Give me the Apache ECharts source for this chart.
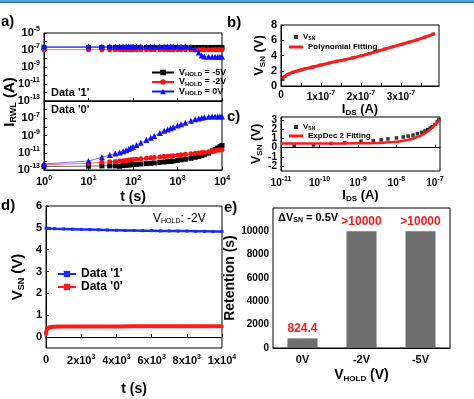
<!DOCTYPE html>
<html>
<head>
<meta charset="utf-8">
<script src="https://cdn.jsdelivr.net/npm/echarts@6/dist/echarts.min.js"></script>
<style>
  html, body { margin: 0; padding: 0; background: #fff; }
  #main { width: 474px; height: 399px; }
</style>
</head>
<body>
<div id="main"></div>
<script>
// panel a: I_RWL vs t
var tA = [1, 10, 20, 30, 40, 50, 60, 70, 80, 90, 100, 120, 150, 200, 250, 300, 400, 500, 600, 700, 800, 1000, 1200, 1500, 2000, 2500, 3000, 3500, 4000, 5000, 6000, 7000, 8000, 9000, 10000];
var one_5V = [2e-7, 2e-7, 2e-7, 2e-7, 2e-7, 2e-7, 2e-7, 2e-7, 2e-7, 2e-7, 2e-7, 2e-7, 2e-7, 2e-7, 2e-7, 2e-7, 2e-7, 2e-7, 2e-7, 2e-7, 2e-7, 2e-7, 2e-7, 2e-7, 2e-7, 2e-7, 2e-7, 2e-7, 2e-7, 2e-7, 2e-7, 2e-7, 2e-7, 2e-7, 2e-7];
var one_2V = [1.1e-7, 1.1e-7, 1.1e-7, 1.1e-7, 1.1e-7, 1.1e-7, 1.1e-7, 1.1e-7, 1.1e-7, 1.1e-7, 1.1e-7, 1.1e-7, 1.1e-7, 1.1e-7, 1.1e-7, 1.1e-7, 1.1e-7, 1.1e-7, 1.1e-7, 1.1e-7, 1.1e-7, 1.1e-7, 1.1e-7, 1.1e-7, 1.1e-7, 1.1e-7, 1.1e-7, 1.1e-7, 1.1e-7, 1.1e-7, 1.1e-7, 1.1e-7, 1.1e-7, 1.1e-7, 1.1e-7];
var one_0V = [2.5e-7, 2.5e-7, 2.5e-7, 2.5e-7, 2.5e-7, 2.5e-7, 2.5e-7, 2.5e-7, 2.5e-7, 2.5e-7, 2.5e-7, 2.5e-7, 2.5e-7, 2.5e-7, 2.5e-7, 2.5e-7, 2.5e-7, 2.5e-7, 2.5e-7, 2.5e-7, 2.5e-7, 2.5e-7, 2.5e-7, 2.5e-7, 2.3e-7, 1.2e-7, 5e-8, 2.2e-8, 1.7e-8, 1.6e-8, 1.6e-8, 1.6e-8, 1.6e-8, 1.6e-8, 1.6e-8];
var zero_5V = [2.5e-13, 2.8e-13, 3e-13, 3e-13, 3e-13, 2.7e-13, 3.2e-13, 3.5e-13, 3.8e-13, 4e-13, 4.3e-13, 4.6e-13, 5e-13, 5.5e-13, 6e-13, 6.5e-13, 7.5e-13, 8.5e-13, 9.5e-13, 1e-12, 1.1e-12, 1.3e-12, 1.5e-12, 1.8e-12, 2.3e-12, 3e-12, 3.8e-12, 4.8e-12, 6e-12, 9e-12, 1.6e-11, 2.4e-11, 3.5e-11, 5e-11, 7e-11];
var zero_2V = [4e-13, 6e-13, 8e-13, 9e-13, 1e-12, 1.1e-12, 1.2e-12, 1.3e-12, 1.4e-12, 1.5e-12, 1.6e-12, 1.8e-12, 2e-12, 2.3e-12, 2.6e-12, 2.8e-12, 3.2e-12, 3.6e-12, 4e-12, 4.3e-12, 4.6e-12, 5.2e-12, 5.8e-12, 6.5e-12, 7.5e-12, 8.5e-12, 9.5e-12, 1.05e-11, 1.1e-11, 1.3e-11, 1.5e-11, 1.7e-11, 1.9e-11, 2.1e-11, 2.3e-11];
var zero_0V = [5e-13, 1.1e-12, 3e-12, 5.5e-12, 8e-12, 1.1e-11, 1.5e-11, 2e-11, 2.8e-11, 3.8e-11, 5e-11, 8e-11, 1.4e-10, 3e-10, 5.5e-10, 9e-10, 2e-9, 3.5e-9, 5e-9, 7e-9, 9e-9, 1.4e-8, 2e-8, 3e-8, 5e-8, 7.5e-8, 9.5e-8, 1.15e-7, 1.3e-7, 1.45e-7, 1.55e-7, 1.6e-7, 1.6e-7, 1.6e-7, 1.6e-7];

// panel b: V_SN vs I_DS (linear)
var bI = [5e-9, 1e-8, 2e-8, 3e-8, 4e-8, 5e-8, 6e-8, 8e-8, 1e-7, 1.2e-7, 1.4e-7, 1.6e-7, 1.8e-7, 2e-7, 2.2e-7, 2.4e-7, 2.6e-7, 2.8e-7, 3e-7, 3.2e-7, 3.4e-7, 3.6e-7, 3.8e-7];
var bV = [0.85, 1.25, 1.55, 1.8, 1.95, 2.1, 2.25, 2.5, 2.75, 3.0, 3.25, 3.45, 3.7, 3.95, 4.25, 4.55, 4.85, 5.15, 5.45, 5.75, 6.05, 6.4, 6.8];
var bFitI = [3e-9, 1e-8, 2e-8, 3e-8, 4e-8, 5e-8, 6e-8, 8e-8, 1e-7, 1.2e-7, 1.4e-7, 1.6e-7, 1.8e-7, 2e-7, 2.2e-7, 2.4e-7, 2.6e-7, 2.8e-7, 3e-7, 3.2e-7, 3.4e-7, 3.6e-7, 3.85e-7];
var bFitV = [1.0, 1.3, 1.6, 1.8, 1.95, 2.1, 2.25, 2.5, 2.75, 3.0, 3.25, 3.45, 3.7, 3.95, 4.25, 4.55, 4.85, 5.15, 5.45, 5.75, 6.05, 6.4, 6.9];

// panel c: V_SN vs I_DS (log)
var cI = [2.2e-11, 7e-11, 2e-10, 4.5e-10, 1.2e-9, 2.5e-9, 4e-9, 6e-9, 1e-8, 1.5e-8, 2e-8, 2.7e-8, 3.5e-8, 4.5e-8, 5.5e-8, 6.5e-8, 7.5e-8, 8.5e-8, 1e-7, 1.15e-7, 1.25e-7];
var cV = [0.25, 0.3, 0.45, 0.55, 0.7, 0.75, 0.85, 0.95, 1.05, 1.15, 1.25, 1.35, 1.5, 1.65, 1.8, 1.95, 2.1, 2.25, 2.5, 2.8, 3.0];
var cFitI = [1e-11, 1e-10, 1e-9, 3e-9, 6e-9, 1e-8, 1.5e-8, 2e-8, 3e-8, 4e-8, 5e-8, 6e-8, 7e-8, 8e-8, 9e-8, 1e-7, 1.1e-7, 1.2e-7, 1.35e-7];
var cFitV = [0.45, 0.45, 0.47, 0.5, 0.58, 0.65, 0.75, 0.85, 1.05, 1.25, 1.45, 1.65, 1.85, 2.05, 2.25, 2.45, 2.65, 2.8, 3.05];
var cTicksEven = [-2, 0, 2];
var cTicksOdd = [-1, 1, 3];

// panel d: V_SN vs t, V_HOLD -2V
var dT1 = [0, 100, 200, 500, 1000, 1500, 2000, 2500, 3000, 3500, 4000, 4500, 5000, 5500, 6000, 6500, 7000, 7500, 8000, 8500, 9000, 9500, 10000];
var dV1 = [4.99, 4.98, 4.97, 4.96, 4.95, 4.94, 4.93, 4.92, 4.91, 4.9, 4.89, 4.88, 4.88, 4.87, 4.87, 4.86, 4.86, 4.85, 4.85, 4.84, 4.84, 4.83, 4.83];
var dT0 = [0, 10, 20, 40, 60, 80, 100, 150, 200, 300, 400, 500, 700, 1000, 1500, 2000, 3000, 4000, 5000, 6000, 7000, 8000, 9000, 10000];
var dV0 = [0.12, 0.2, 0.26, 0.33, 0.37, 0.4, 0.42, 0.44, 0.45, 0.46, 0.47, 0.47, 0.48, 0.48, 0.48, 0.48, 0.48, 0.48, 0.49, 0.49, 0.49, 0.49, 0.49, 0.49];

// panel e: retention
var eCats = ['0V', '-2V', '-5V'];
var eVals = [824.4, 10000, 10000];

var F = '"Liberation Sans", Arial, sans-serif';

function pairs(xs, ys) {
    return xs.map(function (x, i) { return [x, ys[i]]; });
}
function rich(size) {
    return {
        b: { fontSize: size, fontWeight: 'bold', fontFamily: F, color: '#000' },
        s: { fontSize: Math.round(size * 0.65), fontWeight: 'bold', fontFamily: F, color: '#000', padding: [0, 0, 7, 0] }
    };
}
function subRich(size, subSize, drop, weight) {
    return {
        b: { fontSize: size, fontWeight: weight || 'bold', fontFamily: F, color: '#000' },
        u: { fontSize: subSize, fontWeight: weight || 'bold', fontFamily: F, color: '#000', padding: [drop, 0, 0, 0] }
    };
}
function pow10(v) {
    return '{b|10}{s|' + Math.round(Math.log10(v)) + '}';
}
function sci(v) {
    if (v === 0) return '{b|0}';
    var e = Math.floor(Math.log10(v) + 1e-9);
    var m = Math.round(v / Math.pow(10, e));
    return '{b|' + m + 'x10}{s|' + e + '}';
}
function decades(a, b) {
    var out = [];
    for (var e = a; e <= b; e++) out.push(Math.pow(10, e));
    return out;
}

var tick = { inside: true, length: 3, lineStyle: { color: '#000' } };
var line = { lineStyle: { color: '#000', width: 1 } };
function gridBox(l, t, w, h) {
    return { left: l, top: t, width: w, height: h, show: true, borderColor: '#000', borderWidth: 1, backgroundColor: 'transparent' };
}
function plainLabel(size, vals) {
    var o = { fontSize: size, lineHeight: 8, fontWeight: 'bold', color: '#000', margin: 4, hideOverlap: false, formatter: function (v) { return String(v); } };
    if (vals) o.customValues = vals;
    return o;
}

var myChart = echarts.init(document.getElementById('main'), null, { renderer: 'canvas' });

var option = {
    backgroundColor: '#fff',
    animation: false,
    textStyle: { fontFamily: F },
    grid: [
        gridBox(44, 33, 178, 68),
        gridBox(44, 101, 178, 69),
        gridBox(281, 25, 158, 61),
        gridBox(281, 117, 159, 54),
        gridBox(46, 206, 176, 142),
        gridBox(273, 208, 177, 140)
    ],
    xAxis: [
        { gridIndex: 0, type: 'log', min: 1, max: 10000, axisLine: line, axisTick: tick, axisLabel: { show: false }, splitLine: { show: false } },
        { gridIndex: 1, type: 'log', min: 1, max: 10000, axisLine: line, axisTick: tick, splitLine: { show: false },
          axisLabel: { formatter: pow10, rich: rich(11), margin: 5 },
          name: 't (s)', nameLocation: 'middle', nameGap: 20, nameTextStyle: { fontSize: 14, fontWeight: 'bold', color: '#000' } },
        { gridIndex: 2, type: 'value', min: 0, max: 3.95e-7, axisLine: line, splitLine: { show: false },
          axisTick: { inside: true, length: 3, lineStyle: { color: '#000' }, customValues: [0, 0.5e-7, 1e-7, 1.5e-7, 2e-7, 2.5e-7, 3e-7, 3.5e-7] },
          axisLabel: { customValues: [0, 1e-7, 2e-7, 3e-7], formatter: sci, rich: rich(10), margin: 4 },
          name: '{b|I}{u|DS}{b| (A)}', nameLocation: 'middle', nameGap: 15,
          nameTextStyle: { rich: subRich(13, 8, 7) } },
        { gridIndex: 3, type: 'log', min: 1e-11, max: 1.35e-7, axisLine: line, splitLine: { show: false },
          axisTick: { inside: true, length: 3, lineStyle: { color: '#000' }, customValues: decades(-11, -7) },
          axisLabel: { customValues: decades(-11, -7), formatter: pow10, rich: rich(10), margin: 5 },
          name: '{b|I}{u|DS}{b| (A)}', nameLocation: 'middle', nameGap: 17,
          nameTextStyle: { rich: subRich(13, 8, 7) } },
        { gridIndex: 4, type: 'value', min: 0, max: 10000, interval: 2000, axisLine: line, axisTick: tick, splitLine: { show: false },
          axisLabel: { formatter: sci, rich: rich(11), margin: 6 },
          name: 't (s)', nameLocation: 'middle', nameGap: 34, nameTextStyle: { fontSize: 14, fontWeight: 'bold', color: '#000' } },
        { gridIndex: 5, type: 'category', data: eCats, axisLine: line, axisTick: { inside: false, length: 3, alignWithLabel: true, lineStyle: { color: '#000' } },
          axisLabel: { fontSize: 11, fontWeight: 'bold', color: '#000', margin: 6 },
          name: '{b|V}{u|HOLD}{b| (V)}', nameLocation: 'middle', nameGap: 19,
          nameTextStyle: { rich: subRich(14, 8, 8) } }
    ],
    yAxis: [
        { gridIndex: 0, type: 'log', min: 1e-13, max: 1e-5, axisLine: line, splitLine: { show: false },
          axisTick: { inside: true, length: 3, lineStyle: { color: '#000' }, customValues: decades(-13, -5) },
          axisLabel: { customValues: [1e-13, 1e-11, 1e-9, 1e-7, 1e-5], formatter: pow10, rich: rich(11), margin: 4, hideOverlap: false } },
        { gridIndex: 1, type: 'log', min: 1e-13, max: 1e-5, axisLine: line, splitLine: { show: false },
          axisTick: { inside: true, length: 3, lineStyle: { color: '#000' }, customValues: decades(-13, -5) },
          axisLabel: { customValues: [1e-13, 1e-11, 1e-9, 1e-7], formatter: pow10, rich: rich(11), margin: 4, hideOverlap: false } },
        { gridIndex: 2, type: 'value', min: 0, max: 8, interval: 2, axisLine: line, axisTick: tick, splitLine: { show: false },
          axisLabel: plainLabel(11),
          name: '{b|V}{u|SN}{b| (V)}', nameLocation: 'middle', nameGap: 14,
          nameTextStyle: { rich: subRich(13, 8, 7) } },
        { gridIndex: 3, type: 'value', min: -2.5, max: 3.3, axisLine: line, splitLine: { show: false },
          axisTick: { inside: true, length: 3, lineStyle: { color: '#000' }, customValues: cTicksEven.concat(cTicksOdd) },
          axisLabel: plainLabel(10, cTicksEven),
          name: '{b|V}{u|SN}{b| (V)}', nameLocation: 'middle', nameGap: 17,
          nameTextStyle: { rich: subRich(13, 8, 7) } },
        { gridIndex: 4, type: 'value', min: -0.5, max: 6, axisLine: line, splitLine: { show: false },
          axisTick: { inside: true, length: 3, lineStyle: { color: '#000' }, customValues: [0, 1, 2, 3, 4, 5, 6] },
          axisLabel: plainLabel(11, [0, 1, 2, 3, 4, 5, 6]),
          name: '{b|V}{u|SN}{b| (V)}', nameLocation: 'middle', nameGap: 20,
          nameTextStyle: { rich: subRich(15, 9, 8) } },
        { gridIndex: 5, type: 'value', min: 0, max: 12000, axisLine: line, splitLine: { show: false },
          axisTick: { inside: true, length: 3, lineStyle: { color: '#000' }, customValues: [0, 2000, 4000, 6000, 8000, 10000] },
          axisLabel: plainLabel(10, [0, 2000, 4000, 6000, 8000, 10000]),
          name: 'Retention (s)', nameLocation: 'middle', nameGap: 32, nameTextStyle: { fontSize: 14, fontWeight: 'bold', color: '#000' } },
        // second label layer for panel c (odd values), same scale
        { gridIndex: 3, type: 'value', position: 'left', offset: 0, min: -2.5, max: 3.3, splitLine: { show: false },
          axisLine: { show: false }, axisTick: { show: false },
          axisLabel: plainLabel(10, cTicksOdd) }
    ],
    legend: [
        { data: ['-5V', '-2V', '0V'], orient: 'vertical', left: 146, top: 63, itemGap: 0, itemWidth: 22, itemHeight: 7,
          formatter: function (n) { return '{b|V}{u|HOLD}{b| = ' + n + '}'; },
          textStyle: { rich: subRich(9, 6, 4) } },
        { data: ['VSN_b'], left: 289, top: 28, itemWidth: 4, itemHeight: 4, itemGap: 0,
          formatter: function () { return '{b|V}{u|SN}'; }, textStyle: { rich: subRich(8, 5, 3) } },
        { data: [{ name: 'Polynomial Fitting', icon: 'rect' }], left: 284, top: 38, itemWidth: 14, itemHeight: 3, itemGap: 0,
          textStyle: { fontSize: 8, fontWeight: 'bold', color: '#000' } },
        { data: ['VSN_c'], left: 289, top: 118, itemWidth: 4, itemHeight: 4, itemGap: 0,
          formatter: function () { return '{b|V}{u|SN}'; }, textStyle: { rich: subRich(8, 5, 3) } },
        { data: [{ name: 'ExpDec 2 Fitting', icon: 'rect' }], left: 284, top: 127, itemWidth: 14, itemHeight: 3, itemGap: 0,
          textStyle: { fontSize: 8, fontWeight: 'bold', color: '#000' } },
        { data: ["Data '1'", "Data '0'"], orient: 'vertical', left: 52, top: 263, itemGap: 1, itemWidth: 18, itemHeight: 8,
          textStyle: { fontSize: 12, fontWeight: 'bold', fontFamily: F, color: '#000' } }
    ],
    graphic: [
        { type: 'rect', shape: { x: 0, y: 0, width: 474, height: 2 }, style: { fill: '#4f9fdc' } },
        { type: 'rect', shape: { x: 0, y: 2, width: 474, height: 1 }, style: { fill: '#2d6aa5' } },
        { type: 'text', x: 1, y: 22, style: { text: 'a)', font: 'bold 15px ' + F, fill: '#000', verticalAlign: 'middle' } },
        { type: 'text', x: 227, y: 23, style: { text: 'b)', font: 'bold 15px ' + F, fill: '#000', verticalAlign: 'middle' } },
        { type: 'text', x: 227, y: 117, style: { text: 'c)', font: 'bold 15px ' + F, fill: '#000', verticalAlign: 'middle' } },
        { type: 'text', x: 1, y: 206, style: { text: 'd)', font: 'bold 15px ' + F, fill: '#000', verticalAlign: 'middle' } },
        { type: 'text', x: 224, y: 208, style: { text: 'e)', font: 'bold 15px ' + F, fill: '#000', verticalAlign: 'middle' } },
        { type: 'text', x: 51, y: 93, style: { text: "Data '1'", font: 'bold 11px ' + F, fill: '#000', verticalAlign: 'middle' } },
        { type: 'text', x: 51, y: 110, style: { text: "Data '0'", font: 'bold 11px ' + F, fill: '#000', verticalAlign: 'middle' } },
        { type: 'text', x: 10, y: 102, rotation: Math.PI / 2,
          style: { text: '{b|I}{u|RWL}{b| (A)}', align: 'center', verticalAlign: 'middle', rich: subRich(15, 9, 8) } },
        { type: 'text', x: 153, y: 219,
          style: { text: '{b|V}{u|HOLD}{b|: -2V}', verticalAlign: 'middle', rich: subRich(12, 7, 5, 'normal') } },
        { type: 'text', x: 278, y: 218,
          style: { text: '{b|ΔV}{u|SN}{b| = 0.5V}', verticalAlign: 'middle', rich: subRich(11, 7, 5) } }
    ],
    series: [
        // a) data '1'
        { name: '-5V', type: 'line', xAxisIndex: 0, yAxisIndex: 0, data: pairs(tA, one_5V), symbol: 'rect', symbolSize: 5, color: '#000', lineStyle: { width: 0.6 } },
        { name: '-2V', type: 'line', xAxisIndex: 0, yAxisIndex: 0, data: pairs(tA, one_2V), symbol: 'circle', symbolSize: 5, color: '#ff1010', lineStyle: { width: 0.6 } },
        { name: '0V', type: 'line', xAxisIndex: 0, yAxisIndex: 0, data: pairs(tA, one_0V), symbol: 'triangle', symbolSize: 6, color: '#1010ff', lineStyle: { width: 0.6 } },
        // a) data '0'
        { name: '-5V', type: 'line', xAxisIndex: 1, yAxisIndex: 1, data: pairs(tA, zero_5V), symbol: 'rect', symbolSize: 5, color: '#000', lineStyle: { width: 0.6 } },
        { name: '-2V', type: 'line', xAxisIndex: 1, yAxisIndex: 1, data: pairs(tA, zero_2V), symbol: 'circle', symbolSize: 5, color: '#ff1010', lineStyle: { width: 0.6 } },
        { name: '0V', type: 'line', xAxisIndex: 1, yAxisIndex: 1, data: pairs(tA, zero_0V), symbol: 'triangle', symbolSize: 6, color: '#1010ff', lineStyle: { width: 0.6 } },
        // b)
        { name: 'VSN_b', type: 'scatter', xAxisIndex: 2, yAxisIndex: 2, data: pairs(bI, bV), symbol: 'rect', symbolSize: 3, color: '#000' },
        { name: 'Polynomial Fitting', type: 'line', xAxisIndex: 2, yAxisIndex: 2, data: pairs(bFitI, bFitV), symbol: 'none', smooth: true, color: '#ff1a1a', lineStyle: { width: 3 } },
        // c)
        { name: 'ExpDec 2 Fitting', type: 'line', xAxisIndex: 3, yAxisIndex: 3, data: pairs(cFitI, cFitV), symbol: 'none', smooth: true, color: '#ff1a1a', lineStyle: { width: 2.5 } },
        { name: 'VSN_c', type: 'scatter', xAxisIndex: 3, yAxisIndex: 3, data: pairs(cI, cV), symbol: 'rect', symbolSize: 3.5, color: '#000' },
        // d)
        { name: "Data '1'", type: 'line', xAxisIndex: 4, yAxisIndex: 4, data: pairs(dT1, dV1), symbol: 'rect', symbolSize: 3, color: '#1a2ee6', lineStyle: { width: 2.5 } },
        { name: "Data '0'", type: 'line', xAxisIndex: 4, yAxisIndex: 4, data: pairs(dT0, dV0), symbol: 'rect', symbolSize: 3, color: '#ff1a1a', lineStyle: { width: 4 } },
        // e)
        { name: 'Retention', type: 'bar', xAxisIndex: 5, yAxisIndex: 5, data: eVals, barWidth: 30, itemStyle: { color: '#6e6e6e' },
          label: { show: true, position: 'top', distance: 4, color: '#ff1a1a', fontSize: 12, fontWeight: 'bold',
                   formatter: function (p) { return p.value >= 10000 ? '>10000' : String(p.value); } } }
    ]
};

myChart.setOption(option);
</script>
</body>
</html>
